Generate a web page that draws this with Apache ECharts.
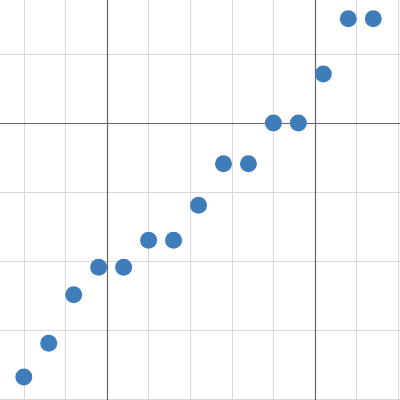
<!DOCTYPE html>
<html><head><meta charset="utf-8">
<script src="https://cdn.jsdelivr.net/npm/echarts@6/dist/echarts.min.js"></script>
<style>html,body{margin:0;padding:0;background:#fff}#c{width:400px;height:400px}</style>
</head><body><div id="c"></div>
<script>
const xValues=[-2,-1.4,-0.8,-0.2,0.4,1.0,1.6,2.2,2.8,3.4,4.0,4.6,5.2,5.8,6.4];
const yValues=[-3.68,-3.19,-2.49,-2.09,-2.09,-1.70,-1.70,-1.19,-0.59,-0.59,0,0,0.71,1.51,1.51];
const xGridLines=[-2,-1,1,2,3,4,6,7];
const yGridLines=[-4,-3,-2,-1,1];
const xMajor=[0,5];
const yMajor=[0];
const chart=echarts.init(document.getElementById('c'));
const lightStyle={color:'#d9d9d9',width:1,type:'solid'};
const darkStyle={color:'#666',width:1.2,type:'solid'};
const ml=[];
xGridLines.forEach(v=>ml.push({xAxis:v,lineStyle:lightStyle}));
yGridLines.forEach(v=>ml.push({yAxis:v,lineStyle:lightStyle}));
xMajor.forEach(v=>ml.push({xAxis:v,lineStyle:darkStyle}));
yMajor.forEach(v=>ml.push({yAxis:v,lineStyle:darkStyle}));
chart.setOption({
  animation:false,
  grid:{left:0,right:0,top:0,bottom:0},
  xAxis:{type:'value',min:-2.572,max:7.043,axisLine:{show:false},axisTick:{show:false},axisLabel:{show:false},splitLine:{show:false}},
  yAxis:{type:'value',min:-4.014,max:1.783,axisLine:{show:false},axisTick:{show:false},axisLabel:{show:false},splitLine:{show:false}},
  series:[{type:'scatter',symbolSize:17,itemStyle:{color:'#3f7cba',opacity:1},
    data:xValues.map((x,i)=>[x,yValues[i]]),
    markLine:{silent:true,symbol:'none',label:{show:false},data:ml,z:-1}
  }]
});
</script></body></html>
